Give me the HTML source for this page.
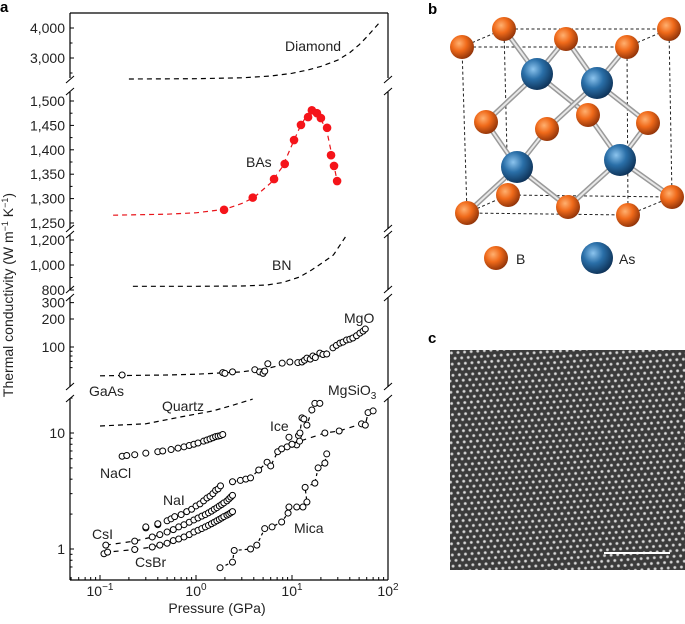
<!DOCTYPE html>
<html><head><meta charset="utf-8"><style>
html,body{margin:0;padding:0;background:#fff;width:685px;height:624px;overflow:hidden}
svg{display:block;font-family:"Liberation Sans",Arial,sans-serif}
</style></head><body>
<svg id="fig" width="685" height="624" viewBox="0 0 685 624">
<defs>
<radialGradient id="gB" cx="0.38" cy="0.35" r="0.7"><stop offset="0" stop-color="#ffb070"/><stop offset="0.45" stop-color="#f06a1a"/><stop offset="1" stop-color="#8a3008"/></radialGradient>
<radialGradient id="gA" cx="0.38" cy="0.35" r="0.7"><stop offset="0" stop-color="#8cc4ee"/><stop offset="0.45" stop-color="#2a6fa8"/><stop offset="1" stop-color="#0c2e52"/></radialGradient>
<radialGradient id="dot"><stop offset="0" stop-color="#f0f0f0"/><stop offset="0.6" stop-color="#b8b8b8"/><stop offset="1" stop-color="#3a3a3a" stop-opacity="0"/></radialGradient>
<pattern id="lat" width="6.6" height="11.2" patternUnits="userSpaceOnUse" patternTransform="rotate(-4)">
<rect width="6.6" height="11.2" fill="#3b3b3b"/>
<circle cx="3.3" cy="2.8" r="2.1" fill="url(#dot)"/>
<circle cx="0" cy="8.4" r="2.1" fill="url(#dot)"/><circle cx="6.6" cy="8.4" r="2.1" fill="url(#dot)"/>
</pattern>
</defs>
<g id="chart"></g>
<g id="crystal"></g>
<g>
<text x="428" y="343" font-size="15" font-weight="bold">c</text>
<rect x="450" y="350" width="235" height="220" fill="url(#lat)"/>
<rect x="604" y="552" width="66" height="2" fill="#fff"/>
</g>
</svg>
<script>
// ---------- data ----------
const diamondP=[0.2,1,3,6,10,15,20,30,40,50,60,80];
const diamondK=[2300,2310,2340,2400,2490,2610,2720,2930,3180,3440,3700,4150];
const basFitP=[0.137,0.5,1,2,3,4,6,8,10,12,14,16,18,20,23,26,29.5];
const basFitK=[1266,1268,1271,1278,1290,1302,1332,1366,1410,1445,1468,1478,1474,1462,1440,1390,1336];
const basP=[1.96,3.9,6.5,8.4,10.5,12.4,14.7,16.1,18.2,20,23.2,25.5,27.4,29.5];
const basK=[1277,1302,1340,1371,1420,1451,1467,1481,1475,1465,1445,1389,1367,1336];
const bnP=[0.22,1,3,5.5,8,12,16,20,27,36];
const bnK=[830,830,832,840,860,904,960,1010,1080,1224];
const mgoFitP=[0.1,0.5,1,3,6,10,20,40,60];
const mgoFitK=[49,50,51,54,60,68,84,125,158];
const gaasP=[0.17,1.9,2.0,2.4,4.1,4.6,5.0,5.2];
const gaasK=[50,53,52,54,57,54,52,55];
const mgoP=[5.6,7.9,9.5,11.5,12.7,13.5,14.3,15.5,16.5,17.5,19.5,21,23,26.7,29,31.6,34,37,40,43,47,51,55,58];
const mgoK=[66,67,69,68,69,72,76,74,80,77,86,83,84,98,104,110,113,119,121,125,132,141,148,156];
const quartzP=[0.1,0.3,0.68,1.5,2.5,3.9];
const quartzK=[11.5,12,13.7,15.5,17.5,19.6];
const naclP=[0.17,0.19,0.23,0.3,0.4,0.45,0.55,0.65,0.75,0.85,0.95,1.05,1.2,1.3,1.4,1.5,1.6,1.7,1.8,1.9];
const naclK=[6.3,6.4,6.5,6.7,6.9,7.0,7.2,7.4,7.6,7.8,8.0,8.2,8.5,8.7,8.9,9.1,9.3,9.4,9.5,9.7];
const naiP=[0.3,0.3,0.4,0.4,0.5,0.55,0.6,0.7,0.8,0.9,1.0,1.1,1.2,1.3,1.4,1.5,1.6,1.7,1.8];
const naiK=[1.52,1.55,1.62,1.65,1.75,1.82,1.9,1.98,2.1,2.2,2.35,2.45,2.6,2.75,2.85,3.0,3.2,3.3,3.5];
const csiP=[0.115,0.23,0.35,0.42,0.5,0.58,0.66,0.75,0.85,0.95,1.05,1.15,1.25,1.35,1.45,1.55,1.65,1.75,1.85,1.95,2.1,2.2,2.3,2.4];
const csiK=[1.08,1.17,1.27,1.33,1.4,1.47,1.55,1.62,1.7,1.78,1.85,1.92,1.98,2.05,2.12,2.2,2.27,2.35,2.42,2.5,2.6,2.7,2.8,2.9];
const csbrP=[0.11,0.12,0.23,0.35,0.42,0.5,0.58,0.66,0.75,0.85,0.95,1.05,1.15,1.25,1.35,1.45,1.55,1.65,1.75,1.85,1.95,2.1,2.2,2.3,2.4];
const csbrK=[0.91,0.94,0.99,1.04,1.08,1.12,1.18,1.22,1.27,1.33,1.4,1.45,1.5,1.55,1.6,1.65,1.7,1.75,1.8,1.85,1.9,1.96,2.0,2.05,2.1];
const iceP=[2.4,2.9,3.3,3.7,4.5,5.5,6.0,7.1,7.8,8.9,9.3,10,11.2,11.7,12.1,12.7,13.3,14.3,16.1,17.3,19.5];
const iceK=[3.8,3.9,4.0,4.1,4.8,5.6,5.2,6.9,7.3,7.6,9.2,8.0,7.9,9.5,10,13.5,13.2,11.7,15.8,18,18];
const mgsiP=[10,12,22,31,53,58,62,70];
const mgsiK=[8,8.5,10,10.4,12,11.7,15,15.5];
const micaP=[1.78,2.4,2.5,3.7,4.3,5.2,6.2,7.8,9.1,9.3,11.2,13,14.3,13.7,17.3,18.7,22,23];
const micaK=[0.69,0.77,0.97,1.0,1.08,1.5,1.55,1.71,2.04,2.3,2.3,2.3,2.54,3.4,3.7,5.0,5.5,6.6];
const xTicks=[0.1,1,10,100];
const xTickLabels=["\u22121","0","1","2"];

// ---------- axes ----------
const X0=70,X1=388,YT=13,YB=580;
const xs=p=>196+96*Math.log10(p);
const yDia=k=>58-(k-3000)*0.03;
const yBAs=k=>101+(1500-k)*0.488;
const yBN=k=>265-(k-1000)*0.125;
const yMgO=k=>347-93*Math.log10(k/100);
const yLow=k=>549-116*Math.log10(k);

const NS="http://www.w3.org/2000/svg";
const chart=document.getElementById('chart');
function el(tag,attrs,parent){const e=document.createElementNS(NS,tag);for(const k in attrs)e.setAttribute(k,attrs[k]);(parent||chart).appendChild(e);return e;}

// frame
const frame=el('g',{});


el('line',{x1:X0,y1:YT,x2:X1,y2:YT,stroke:'#000','stroke-width':1.2},frame);
el('line',{x1:X0,y1:YB,x2:X1,y2:YB,stroke:'#000','stroke-width':1.2},frame);
const segs=[[YT,78],[92,229],[235,290],[297,387],[398,YB]];
segs.forEach(s=>{[X0,X1].forEach(x=>el('line',{x1:x,y1:s[0],x2:x,y2:s[1],stroke:'#000','stroke-width':1.2},frame));});
[[80,91],[229,234],[290,297],[387,398]].forEach(b=>{[X0,X1].forEach(x=>{
 el('line',{x1:x-4,y1:b[0]+3,x2:x+4,y2:b[0]-4,stroke:'#000','stroke-width':1},frame);
 el('line',{x1:x-4,y1:b[1]+4,x2:x+4,y2:b[1]-3,stroke:'#000','stroke-width':1},frame);
});});

// y ticks and labels
function ytick(y,label,len){el('line',{x1:X0,y1:y,x2:X0+(len||4),y2:y,stroke:'#000','stroke-width':1},frame);
 if(label){const t=el('text',{x:X0-5,y:y+5,'font-size':14,'text-anchor':'end',fill:'#222'},frame);t.textContent=label;}}
[[4000,'4,000'],[3000,'3,000']].forEach(a=>ytick(yDia(a[0]),a[1]));
[3500,2500].forEach(k=>ytick(yDia(k),'',2.5));
[1500,1450,1400,1350,1300,1250].forEach(k=>ytick(yBAs(k),k.toLocaleString('en-US')));
[1475,1425,1375,1325,1275].forEach(k=>ytick(yBAs(k),'',2.5));
[1200,1000,800].forEach(k=>ytick(yBN(k),k.toLocaleString('en-US')));
[1100,900].forEach(k=>ytick(yBN(k),'',2.5));
[[300,'300'],[200,'200'],[100,'100']].forEach(a=>ytick(yMgO(a[0]),a[1]));
[60,70,80,90].forEach(k=>ytick(yMgO(k),'',2.5));
[[10,'10'],[1,'1']].forEach(a=>ytick(yLow(a[0]),a[1]));
[0.7,0.8,0.9,2,3,4,5,6,7,8,9,20].forEach(k=>ytick(yLow(k),'',2.5));
// x ticks
for(let d=-2;d<2;d++)for(let m=1;m<10;m++){const p=m*Math.pow(10,d);const x=xs(p);if(x<X0||x>X1)continue;
 el('line',{x1:x,y1:YB,x2:x,y2:YB-(m===1?5:3),stroke:'#000','stroke-width':1},frame);}
xTicks.forEach((p,i)=>{const t=el('text',{x:xs(p),y:596,'font-size':14,'text-anchor':'middle',fill:'#222'},frame);
 
 t.textContent='10';const s=el('tspan',{dy:-6,'font-size':10},t);s.textContent=xTickLabels[i];});
const xt=el('text',{x:217,y:613,'font-size':14,'text-anchor':'middle',fill:'#222'});
xt.textContent='Pressure (GPa)';
const yt=el('text',{x:0,y:0,'font-size':14,'text-anchor':'middle',fill:'#222',transform:'translate(13,295) rotate(-90)'});

yt.innerHTML='Thermal conductivity (W m<tspan dy="-5" font-size="9">\u22121</tspan><tspan dy="5"> K</tspan><tspan dy="-5" font-size="9">\u22121</tspan><tspan dy="5">)</tspan>';
const pa=el('text',{x:0,y:12,'font-size':15,'font-weight':'bold'});pa.textContent='a';


// series helpers
function line(P,K,yf,name,color,dash,solid){const d=P.map((p,i)=>(i?'L':'M')+xs(p).toFixed(1)+','+yf(K[i]).toFixed(1)).join('');
 const e=el('path',{d:d,fill:'none',stroke:color||'#000','stroke-width':1.2,'stroke-dasharray':dash||'5,4'});
 }
function pts(P,K,yf,name,fill,r){const g=el('g',{});
 P.forEach((p,i)=>{const c=el('circle',{cx:xs(p),cy:yf(K[i]),r:r||3,fill:fill||'#fff',stroke:fill?'none':'#000','stroke-width':1},g);
 });}
function label(x,y,txt,name){const t=el('text',{x:x,y:y,'font-size':14,fill:'#222'});t.textContent=txt;return t;}

line(diamondP,diamondK,yDia,'diamond-line');
line(basFitP,basFitK,yBAs,'bas-fit-line','#e8141a');
pts(basP,basK,yBAs,'bas-series','#f5141a',4.3);
line(bnP,bnK,yBN,'bn-line');
line(mgoFitP,mgoFitK,yMgO,'mgo-gaas-fit-line');
pts(gaasP,gaasK,yMgO,'gaas-series');
pts(mgoP,mgoK,yMgO,'mgo-series');
line(quartzP,quartzK,yLow,'quartz-line');
pts(naclP,naclK,yLow,'nacl-series');
line(csiP,csiK,yLow,'csi-line','#000','5,5');pts(csiP,csiK,yLow,'csi-series');
line(csbrP,csbrK,yLow,'csbr-line','#000','5,5');pts(csbrP,csbrK,yLow,'csbr-series');
pts(naiP,naiK,yLow,'nai-series');
line(iceP,iceK,yLow,'ice-line','#000','4,4');pts(iceP,iceK,yLow,'ice-series');
line(mgsiP,mgsiK,yLow,'mgsio3-line','#000','5,5');pts(mgsiP,mgsiK,yLow,'mgsio3-series');
line(micaP,micaK,yLow,'mica-line','#000','3,3');pts(micaP,micaK,yLow,'mica-series');

label(285,51,'Diamond','diamond-label');label(246,167,'BAs','bas-label');label(272,270,'BN','bn-label');
label(344,323,'MgO','mgo-label');label(89,396,'GaAs','gaas-label');label(162,411,'Quartz','quartz-label');
label(270,431,'Ice','ice-label');
const ms=label(328,395,'MgSiO','mgsio3-label');const sb=el('tspan',{dy:4,'font-size':10},ms);sb.textContent='3';
label(100,478,'NaCl','nacl-label');label(163,505,'NaI','nai-label');label(92,539,'CsI','csi-label');
label(135,567,'CsBr','csbr-label');label(294,533,'Mica','mica-label');

// ---------- crystal ----------
const cr=document.getElementById('crystal');
function cel(tag,attrs,parent){const e=document.createElementNS(NS,tag);for(const k in attrs)e.setAttribute(k,attrs[k]);(parent||cr).appendChild(e);return e;}
const pb=cel('text',{x:428,y:14,'font-size':15,'font-weight':'bold'});pb.textContent='b';

const front=[[462,47],[627,47],[628,215],[467,213]],back=[[504,29],[669,29],[672,197],[508,195]];
const cube=cel('g',{stroke:'#222','stroke-width':1,'stroke-dasharray':'3,2.5',fill:'none'});

[front,back].forEach(f=>cel('polygon',{points:f.map(p=>p.join(',')).join(' ')},cube));
for(let i=0;i<4;i++)cel('line',{x1:front[i][0],y1:front[i][1],x2:back[i][0],y2:back[i][1]},cube);
const Bs=[[504,29],[669,29],[566,39],[508,195],[672,197],[462,47],[627,47],[588,115],[486,122],[547,129],[648,123],[467,213],[568,207],[628,215]];
const As=[[537,74],[597,83],[517,167],[620,160]];
const bonds=[[0,0],[0,2],[0,8],[0,7],[1,2],[1,6],[1,10],[1,9],[2,8],[2,9],[2,11],[2,12],[3,7],[3,10],[3,12],[3,4]];
const bg=cel('g',{});
bonds.forEach(b=>{const a=As[b[0]],o=Bs[b[1]];
 cel('line',{x1:a[0],y1:a[1],x2:o[0],y2:o[1],stroke:'#9a9a9a','stroke-width':5},bg);
 cel('line',{x1:a[0],y1:a[1],x2:o[0],y2:o[1],stroke:'#e8e8e8','stroke-width':2},bg);});
Bs.forEach(p=>{const c=cel('circle',{cx:p[0],cy:p[1],r:12,fill:'url(#gB)'});});
As.forEach(p=>{const c=cel('circle',{cx:p[0],cy:p[1],r:16,fill:'url(#gA)'});});
const lb=cel('circle',{cx:496,cy:258,r:12,fill:'url(#gB)'});
const lbt=cel('text',{x:516,y:264,'font-size':14,fill:'#222'});lbt.textContent='B';
const la=cel('circle',{cx:597,cy:258,r:16,fill:'url(#gA)'});
const lat=cel('text',{x:619,y:264,'font-size':14,fill:'#222'});lat.textContent='As';
</script>
</body></html>
